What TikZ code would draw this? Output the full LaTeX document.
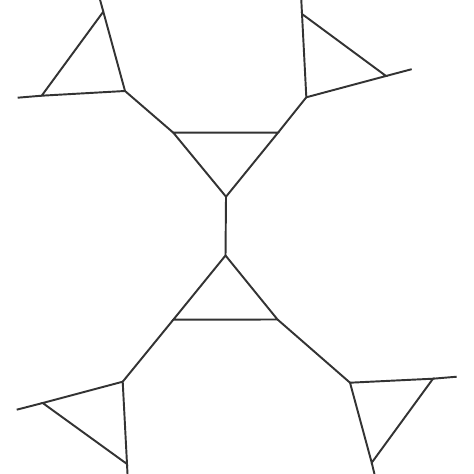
\documentclass[tikz,border=0pt]{standalone}
\usepackage{xcolor}
\usepackage{tikz}
\definecolor{edgegray}{rgb}{0.2,0.2,0.2}

\begin{document}
\begin{tikzpicture}[x=0.01cm,y=-0.01cm,
	edge/.style={draw=edgegray,line width=0.55pt,line join=miter}]
  \useasboundingbox (0,0) rectangle (474,474);
  \clip (0,0) rectangle (474,474);
  % central pair
  \coordinate (tl) at (173.3,132.7);
  \coordinate (tr) at (278,132.7);
  \coordinate (tb) at (226,196.7);
  \coordinate (bt) at (225.5,255.5);
  \coordinate (bl) at (173.3,319.7);
  \coordinate (br) at (277.5,319.5);
  % outer triangles
  \coordinate (a1) at (125,91);
  \coordinate (b1) at (103.3,11.7);
  \coordinate (c1) at (41.7,95.7);
  \coordinate (a2) at (306.3,97.3);
  \coordinate (b2) at (302,14);
  \coordinate (c2) at (386,76);
  \coordinate (a3) at (122.7,381.7);
  \coordinate (b3) at (42.7,403);
  \coordinate (c3) at (127,464);
  \coordinate (a4) at (350,382.7);
  \coordinate (b4) at (433,378.7);
  \coordinate (c4) at (371.7,462.7);
  % leaf ends
  \coordinate (b1end) at (96.7,-12.4);
  \coordinate (c1end) at (17.7,97.7);
  \coordinate (b2end) at (300.7,-11);
  \coordinate (c2end) at (411.7,69.2);
  \coordinate (b3end) at (16.7,409.7);
  \coordinate (c3end) at (128.3,490);
  \coordinate (b4end) at (456.7,376.7);
  \coordinate (c4end) at (377.5,486.8);

  \draw[edge] (tl) -- (tr) -- (tb) -- cycle;
  \draw[edge] (bt) -- (bl) -- (br) -- cycle;
  \draw[edge] (tb) -- (bt);
  \draw[edge] (tl) -- (a1);
  \draw[edge] (tr) -- (a2);
  \draw[edge] (bl) -- (a3);
  \draw[edge] (br) -- (a4);
  \draw[edge] (a1) -- (b1) -- (c1) -- cycle;
  \draw[edge] (a2) -- (b2) -- (c2) -- cycle;
  \draw[edge] (a3) -- (b3) -- (c3) -- cycle;
  \draw[edge] (a4) -- (b4) -- (c4) -- cycle;
  \draw[edge] (b1) -- (b1end);
  \draw[edge] (c1) -- (c1end);
  \draw[edge] (b2) -- (b2end);
  \draw[edge] (c2) -- (c2end);
  \draw[edge] (b3) -- (b3end);
  \draw[edge] (c3) -- (c3end);
  \draw[edge] (b4) -- (b4end);
  \draw[edge] (c4) -- (c4end);

\end{tikzpicture}
\end{document}
